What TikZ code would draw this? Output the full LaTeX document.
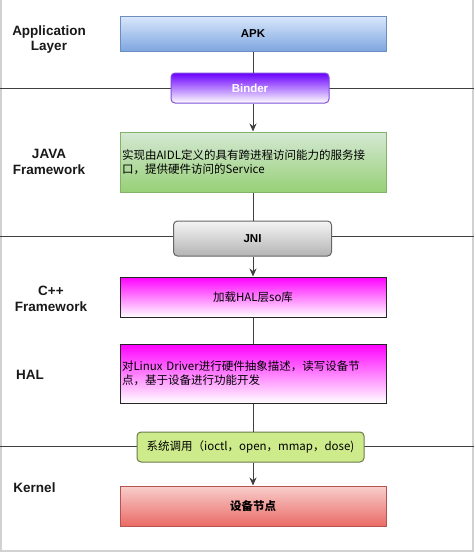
\documentclass[tikz,border=0pt]{standalone}
\usepackage{fontspec}
\setmainfont{Liberation Sans}
\newfontfamily\cjk{Noto Sans CJK SC}
\usepackage{tikz}
\usetikzlibrary{arrows.meta}

\definecolor{apkTop}{HTML}{DAE8FC}
\definecolor{apkBot}{HTML}{7EA6E0}
\definecolor{apkLine}{HTML}{6C8EBF}
\definecolor{javaTop}{HTML}{D5E8D4}
\definecolor{javaBot}{HTML}{97D077}
\definecolor{javaLine}{HTML}{82B366}
\definecolor{binderTop}{HTML}{6A00FF}
\definecolor{binderLine}{HTML}{7F4FD9}
\definecolor{jniTop}{HTML}{F5F5F5}
\definecolor{jniBot}{HTML}{B3B3B3}
\definecolor{sysFill}{HTML}{CDEB8B}
\definecolor{sysLine}{HTML}{6B7A4A}
\definecolor{kernTop}{HTML}{F8CECC}
\definecolor{kernBot}{HTML}{EA6B66}
\definecolor{kernLine}{HTML}{B85450}
\definecolor{wire}{HTML}{404040}

\tikzset{
  layerbox/.style={draw, line width=1pt, minimum width=266pt, inner sep=2pt},
  linkbox/.style={draw, line width=1pt, rounded corners=4pt, inner sep=2pt},
  layerlabel/.style={align=center, font=\fontsize{13.5}{15.5}\selectfont\bfseries, text=black!90},
  boxtext/.style={font=\cjk\fontsize{11.5}{14.5}\selectfont},
  wireline/.style={draw=wire, line width=1pt},
}

\begin{document}
\begin{tikzpicture}[x=1pt, y=-1pt]
        \useasboundingbox (0,0) rectangle (474,552);
        \fill[white] (0,0) rectangle (474,552);
        \draw[black!18, line width=2pt] (1,0) -- (1,551) -- (473,551) -- (473,0);

        % layer separators
        \draw[wireline] (0,88) -- (474,88);
        \draw[wireline] (0,236.5) -- (474,236.5);
        \draw[wireline] (0,446) -- (474,446);

        \node[layerbox, minimum height=35pt, top color=apkTop, bottom color=apkBot, draw=apkLine,
              font=\fontsize{11.5}{14}\selectfont\bfseries] (apk) at (253,33.5) {APK};
        \node[linkbox, minimum width=158pt, minimum height=30pt, top color=binderTop, bottom color=white,
              draw=binderLine, text=white, font=\fontsize{11.5}{14}\selectfont\bfseries] (binder) at (250,88) {Binder};
        \node[layerbox, minimum height=60pt, top color=javaTop, bottom color=javaBot, draw=javaLine,
              boxtext, text width=262pt, align=left] (java) at (253,162) {实现由AIDL定义的具有跨进程访问能力的服务接\\口，提供硬件访问的Service};
        \node[linkbox, minimum width=158pt, minimum height=35pt, top color=jniTop, bottom color=jniBot, draw=black!60,
              font=\fontsize{11.5}{14}\selectfont\bfseries] (jni) at (252.5,238.5) {JNI};
        \node[layerbox, minimum height=40pt, top color=magenta, bottom color=white, draw=black!85,
              boxtext] (cpp) at (253,297) {加载HAL层so库};
        \node[layerbox, minimum height=59pt, top color=magenta, bottom color=white, draw=black!85,
              boxtext, text width=262pt, align=left] (hal) at (253,373.5) {对Linux Driver进行硬件抽象描述，读写设备节\\点，基于设备进行功能开发};
        \node[linkbox, minimum width=227pt, minimum height=30pt, fill=sysFill, draw=sysLine,
              boxtext] (sys) at (250.5,447) {系统调用（ioctl，open，mmap，dose)};
        \node[layerbox, minimum height=40pt, top color=kernTop, bottom color=kernBot, draw=kernLine,
              boxtext, font=\cjk\bfseries\fontsize{11.5}{14}\selectfont] (kern) at (253,506) {设备节点};

        \draw[wireline] (apk.south) -- (apk.south |- binder.north);
        \draw[wireline, -{Stealth[length=8pt, width=7pt]}] (apk.south |- binder.south) -- (java.north);
        \draw[wireline] (java.south) -- (java.south |- jni.north);
        \draw[wireline, -{Stealth[length=8pt, width=7pt]}] (java.south |- jni.south) -- (cpp.north);
        \draw[wireline] (cpp.south) -- (hal.north);
        \draw[wireline] (hal.south) -- (hal.south |- sys.north);
        \draw[wireline, -{Stealth[length=8pt, width=7pt]}] (hal.south |- sys.south) -- (kern.north);

        \node[layerlabel] (appLabel) at (49,39.5) {Application\\Layer};
        \node[layerlabel] (javaLabel) at (49,162) {JAVA\\Framework};
        \node[layerlabel] (cppLabel) at (51,299) {C++\\Framework};
        \node[layerlabel] (halLabel) at (30,375) {HAL};
        \node[layerlabel] (kernLabel) at (34.5,487.5) {Kernel};
\end{tikzpicture}
\end{document}
